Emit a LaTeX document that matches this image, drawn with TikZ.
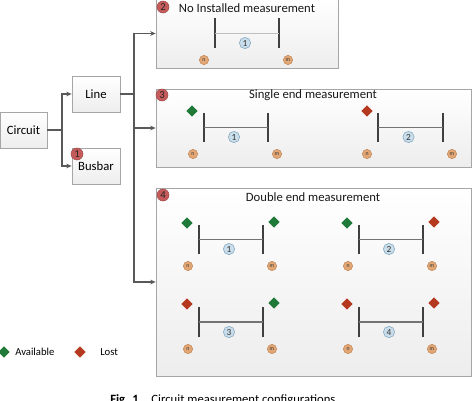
\documentclass[tikz,border=0pt]{standalone}
\usepackage{fontspec}
\setmainfont{Carlito}
\usetikzlibrary{shapes.geometric,arrows.meta,shadows}
\definecolor{boxborder}{HTML}{A6A6A6}
\definecolor{conn}{HTML}{595959}
\definecolor{badgered}{HTML}{C65B5B}
\definecolor{numblue}{HTML}{C9DEEA}
\definecolor{numedge}{HTML}{7FA4BD}
\definecolor{tan}{HTML}{E2A774}
\definecolor{tanedge}{HTML}{B97C4A}
\definecolor{avgreen}{HTML}{1F7A3A}
\definecolor{lostred}{HTML}{B5391E}
\tikzset{
  panel/.style={draw=boxborder, line width=0.6pt, top color=white, bottom color=black!7,
    drop shadow={shadow xshift=0.8pt, shadow yshift=-0.8pt, fill=black!25, opacity=0.6},
    inner sep=0pt, font=\fontsize{9.5}{11}\selectfont},
  conn/.style={draw=conn, line width=0.8pt},
  arr/.style={conn, -{Stealth[length=4pt,width=3.5pt]}},
  badge/.style={circle, fill=badgered, draw=badgered!80!black, line width=0.4pt, minimum size=9pt, inner sep=0pt, font=\fontsize{8}{8}\selectfont, text=black!85},
  num/.style={circle, fill=numblue, draw=numedge, line width=0.4pt, minimum size=8.5pt, inner sep=0pt, font=\fontsize{7}{7}\selectfont, text=black!80},
  endpt/.style={circle, fill=tan, draw=tanedge, line width=0.3pt, minimum size=7pt, inner sep=0pt, font=\fontsize{4.3}{4.5}\selectfont, text=black!80},
  bar/.style={draw=black!75, line width=1.8pt},
  link/.style={draw=black!55, line width=1pt},
  thinlink/.style={draw=black!25, line width=0.6pt},
  dmd/.style={diamond, minimum size=8.5pt, inner sep=0pt},
  avail/.style={dmd, fill=avgreen},
  lost/.style={dmd, fill=lostred},
  title/.style={font=\fontsize{9.5}{11}\selectfont, text=black!90},
}
% segment: #1 xl, #2 xr, #3 ytop, #4 ybot, #5 label, #6 name, #7 link style
\newcommand{\segm}[7]{%
  \draw[bar] (#1,#3) -- (#1,#4);
  \draw[bar] (#2,#3) -- (#2,#4);
  \draw[#7] (#1,{(#3+#4)/2}) -- (#2,{(#3+#4)/2});
  \node[num] (c#6) at ({(#1+#2)/2-2},{#4-5}) {#5};
  \node[endpt] (n#6) at ({#1-11},{#4+12}) {n};
  \node[endpt] (m#6) at ({#2+9},{#4+12}) {m};
}
\begin{document}
\begin{tikzpicture}[x=0.75pt,y=-0.75pt]
\useasboundingbox (0,0) rectangle (474,400);

% left boxes
\node[panel, minimum width=35.25pt, minimum height=27pt] (circuit) at (23.5,130) {Circuit};
\node[panel, minimum width=36pt, minimum height=27pt] (line) at (96,94) {Line};
\node[panel, minimum width=36pt, minimum height=27pt] (busbar) at (96,166) {\raisebox{-2pt}{Busbar}};
\node[badge] (b1) at (77,154) {1};

% panels
\node[panel, minimum width=136.5pt, minimum height=51.75pt] (box2) at (247,33.5) {};
\node[panel, minimum width=236.25pt, minimum height=58.5pt] (box3) at (313.5,128) {};
\node[panel, minimum width=236.25pt, minimum height=141pt] (box4) at (313.5,282) {};

% connectors
\coordinate (j1) at (62,130);
\coordinate (j2) at (134,94);
\draw[conn] (circuit.east) -- (j1);
\draw[arr] (j1) |- (line.west);
\draw[arr] (j1) |- (busbar.west);
\draw[conn] (line.east) -- (j2);
\draw[arr] (j2) |- (box2.west);
\draw[arr] (j2) |- (box3.west);
\draw[arr] (j2) |- (box4.west);

% box 2
\node[badge] (b2) at (163,7) {2};
\node[title] (t2) at (247,8) {No Installed measurement};
\segm{215}{279}{18}{48}{1}{a}{thinlink}

% box 3
\node[badge] (b3) at (162,95) {3};
\node[title] (t3) at (313,95) {Single end measurement};
\segm{204}{268}{113}{142}{1}{b}{link}
\node[avail] (d3a) at (192,111) {};
\segm{378}{443}{113}{142}{2}{c}{link}
\node[lost] (d3b) at (367,111) {};

% box 4
\node[badge] (b4) at (163,195) {4};
\node[title] (t4) at (313,197) {Double end measurement};
\segm{199}{263}{225}{254}{1}{d}{link}
\node[avail] (d4a) at (187,223) {};
\node[avail] (d4b) at (274,222) {};
\segm{359}{423}{225}{254}{2}{e}{link}
\node[avail] (d4c) at (347,223) {};
\node[lost] (d4d) at (434,222) {};
\segm{199}{263}{307}{337}{3}{f}{link}
\node[lost] (d4e) at (187,304) {};
\node[avail] (d4f) at (274,303) {};
\segm{359}{423}{307}{337}{4}{g}{link}
\node[lost] (d4g) at (347,304) {};
\node[lost] (d4h) at (434,303) {};

% legend
\node[avail] (la) at (4,352) {};
\node[anchor=west, font=\fontsize{8}{9}\selectfont, inner sep=0pt] (lat) at (15,352) {Available};
\node[lost] (ll) at (80,352) {};
\node[anchor=west, font=\fontsize{8}{9}\selectfont, inner sep=0pt] (llt) at (100,352) {Lost};

% caption (cut off by the page edge, as in the reference)
\node[anchor=base west, inner sep=0pt, font=\fontsize{9.5}{11}\selectfont] (cap) at (110,403) {\textbf{Fig. 1}\quad Circuit measurement configurations};
\end{tikzpicture}
\end{document}
